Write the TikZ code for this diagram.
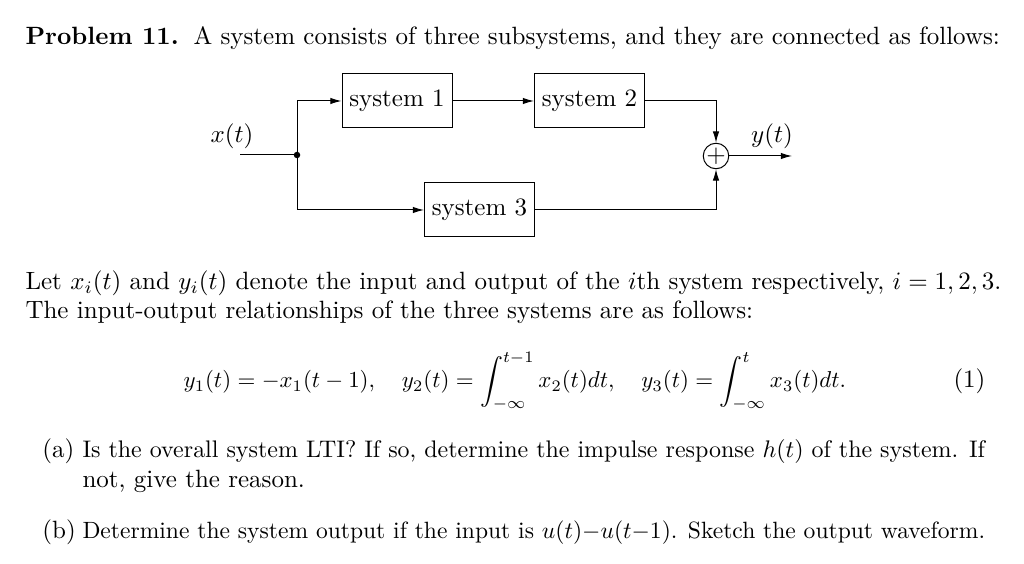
\documentclass[tikz,border=0pt]{standalone}
\usetikzlibrary{arrows.meta}
\begin{document}
\begin{tikzpicture}[x=0.4pt,y=-0.4pt,
  blk/.style={draw,minimum width=110*0.4pt,minimum height=54*0.4pt,inner sep=0pt},
  arr/.style={-{Latex[length=4.5pt,width=2.6pt]},line width=0.4pt},
  ln/.style={line width=0.4pt},
  txt/.style={anchor=base west,inner sep=0pt}]
\useasboundingbox (0,0) rectangle (1024,564);
\node[txt] (title) at (25,45) {\textbf{Problem 11.}};
\node[txt] (intro) at (193,45) {A system consists of three subsystems, and they are connected as follows:};
\node[blk] (s1) at (397,101) {system 1};
\node[blk] (s2) at (589.5,101) {system 2};
\node[blk] (s3) at (479.5,210) {system 3};
\node[draw,circle,minimum size=22*0.4pt,inner sep=0pt] (sum) at (716,156) {$+$};
\node (xl) at (232,136) {$x(t)$};
\node (yl) at (772,136) {$y(t)$};
\coordinate (in) at (240,155);
\coordinate (j) at (297,155);
\coordinate (out) at (792,156);
\fill (j) circle (1.3pt);
\draw[ln] (in) -- (j);
\draw[arr] (j) |- (s1.west);
\draw[arr] (j) |- (s3.west);
\draw[arr] (s1.east) -- (s2.west);
\draw[arr] (s2.east) -| (sum.north);
\draw[arr] (s3.east) -| (sum.south);
\draw[arr] (sum.east) -- (out);
\node[txt] (l1) at (25,290) {Let $x_i(t)$ and $y_i(t)$ denote the input and output of the $i$th system respectively, $i=1,2,3$.};
\node[txt] (l2) at (25,319) {The input-output relationships of the three systems are as follows:};
\node[txt] (eq) at (183,388) {\resizebox{265pt}{!}{$\displaystyle y_1(t)=-x_1(t-1),\quad y_2(t)=\int_{-\infty}^{t-1}x_2(t)dt,\quad y_3(t)=\int_{-\infty}^{t}x_3(t)dt.$}};
\node[txt] (n1) at (953,388) {(1)};
\node[txt] (a) at (42,458) {(a)};
\node[txt] (a1) at (82,458) {\resizebox{361pt}{!}{Is the overall system LTI? If so, determine the impulse response $h(t)$ of the system. If}};
\node[txt] (a2) at (82,487) {not, give the reason.};
\node[txt] (b) at (42,538) {(b)};
\node[txt] (b1) at (82,538) {\resizebox{361pt}{!}{Determine the system output if the input is $u(t){-}u(t{-}1)$. Sketch the output waveform.}};
\end{tikzpicture}
\end{document}
